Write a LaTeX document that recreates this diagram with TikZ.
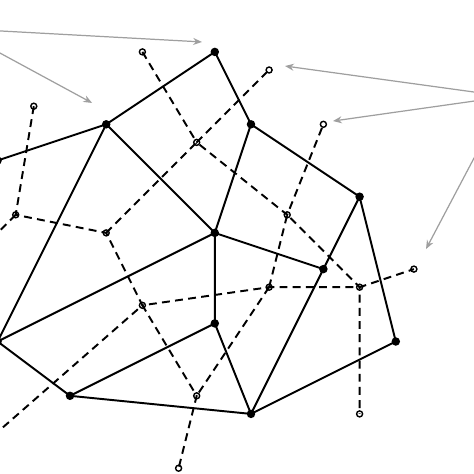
\documentclass[tikz,border=0pt]{standalone}
\usetikzlibrary{arrows.meta}
\begin{document}
\begin{tikzpicture}[x=0.362cm,y=-0.362cm,
        primal/.style={line width=1.1pt},
        dual/.style={line width=1.1pt,dash pattern=on 4.5pt off 3pt},
        pointer/.style={draw=gray!75,line width=0.7pt,-{Stealth[length=5pt,width=4pt]}}]
        \useasboundingbox (0.133,0.133) rectangle (26.32,26.32);
        % primal vertices
        \coordinate (a) at (12,3);
        \coordinate (b) at (6,7);
        \coordinate (c) at (14,7);
        \coordinate (d) at (20,11);
        \coordinate (e) at (12,13);
        \coordinate (f) at (18,15);
        \coordinate (g) at (12,18);
        \coordinate (h) at (22,19);
        \coordinate (i) at (4,22);
        \coordinate (j) at (14,23);
        \coordinate (k) at (0,19);
        \coordinate (l) at (0,9);
        % dual vertices
        \coordinate (d1) at (8,3);
        \coordinate (d2) at (15,4);
        \coordinate (d3) at (2,6);
        \coordinate (d4) at (11,8);
        \coordinate (d5) at (18,7);
        \coordinate (d6) at (1,12);
        \coordinate (d7) at (6,13);
        \coordinate (d8) at (16,12);
        \coordinate (d9) at (8,17);
        \coordinate (d10) at (15,16);
        \coordinate (d11) at (20,16);
        \coordinate (d12) at (23,15);
        \coordinate (d13) at (11,22);
        \coordinate (d14) at (20,23);
        \coordinate (d15) at (10,26);
        \coordinate (d16) at (-0.5,13.5);
        \coordinate (d17) at (-0.8,24.7);
        % primal edges
        \draw[primal] (l) -- (b) -- (a) -- (c) -- (d) -- (h) -- (j) -- (i) -- (k) -- (b) -- (e) -- (c);
        \draw[primal] (d) -- (f) -- (e) -- (g) -- (i);
        \draw[primal] (k) -- (e);
        \draw[primal] (g) -- (j) -- (f);
        % dual edges
        \draw[dual] (d1) -- (d4) -- (d2);
        \draw[dual] (d7) -- (d4) -- (d8) -- (d5);
        \draw[dual] (d3) -- (d6) -- (d7) -- (d9) -- (d10) -- (d11) -- (d12);
        \draw[dual] (d6) -- (d16);
        \draw[dual] (d10) -- (d8) -- (d11) -- (d14);
        \draw[dual] (d17) -- (d9) -- (d13) -- (d15);
        \draw[dual] (d10) -- (d13);
        \foreach \v in {a,b,c,d,e,f,g,h,i,j,k,l}
            \fill (\v) circle (0.085cm);
        \foreach \q in {d1,d2,d3,d4,d5,d6,d7,d8,d9,d10,d11,d12,d13,d14,d15}
            \draw[line width=0.8pt] (\q) circle (0.06cm);
        % pointers
        \coordinate (s1) at (-1,1.78);
        \coordinate (t1) at (11.29,2.45);
        \coordinate (s2) at (-1,2.45);
        \coordinate (t2) at (5.22,5.82);
        \coordinate (s3) at (27,5.31);
        \coordinate (t3) at (15.88,3.78);
        \coordinate (s4) at (27,5.62);
        \coordinate (t4) at (18.53,6.82);
        \coordinate (s5) at (27,7.58);
        \coordinate (t5) at (23.67,13.89);
        \draw[pointer] (s1) -- (t1);
        \draw[pointer] (s2) -- (t2);
        \draw[pointer] (s3) -- (t3);
        \draw[pointer] (s4) -- (t4);
        \draw[pointer] (s5) -- (t5);
\end{tikzpicture}
\end{document}
